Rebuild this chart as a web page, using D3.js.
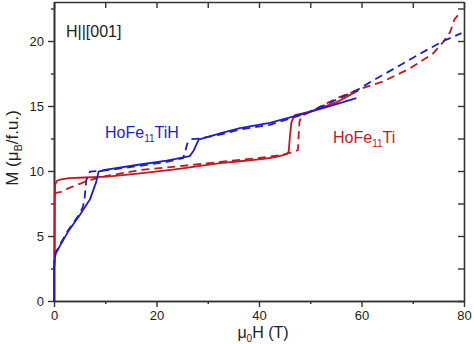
<!DOCTYPE html>
<html><head><meta charset="utf-8">
<script src="https://cdn.jsdelivr.net/npm/d3@7"></script>
<style>body{margin:0;background:#fff}svg{display:block}text{font-family:"Liberation Sans",Arial,sans-serif}</style>
</head><body><svg id="c" width="474" height="344"></svg>
<script>
// HoFe11Ti, solid (red)
const redSolidX = [0.1, 0.12, 0.15, 0.25, 0.6, 1.4, 3, 6, 10.5, 16.8, 24, 32.4, 36.3, 40, 42.1, 44, 45.4, 45.8, 46.0, 46.3, 46.7, 47, 50, 55.2, 59.4];
const redSolidY = [3.0, 5, 8, 9.0, 9.25, 9.36, 9.45, 9.5, 9.56, 9.82, 10.15, 10.6, 10.75, 10.9, 11.0, 11.15, 11.3, 11.5, 12.5, 13.7, 14.1, 14.3, 14.56, 15.3, 16.2];
// HoFe11Ti, dashed (red)
const redDashX = [0, 0.1, 1.4, 3, 5.3, 6.3, 8, 10, 16.8, 24, 32.4, 40, 44, 46, 47.6, 47.7, 47.9, 48.3, 50, 55.2, 59.7, 64.3, 69.5, 74, 76, 77.3, 78.2, 79.5];
const redDashY = [8.28, 8.3, 8.4, 8.7, 9.05, 9.23, 9.4, 9.6, 10.08, 10.35, 10.7, 11.0, 11.2, 11.4, 11.6, 12.5, 13.8, 14.25, 14.55, 15.6, 16.3, 16.9, 17.9, 19.05, 19.95, 20.7, 21.7, 22.25];
// HoFe11TiH, solid (blue)
const blueSolidX = [0, 0, 0.05, 0.3, 1.1, 2.7, 5, 7, 8.26, 8.7, 9.9, 16.8, 22, 26.5, 27.3, 28.2, 28.5, 32.4, 36.3, 42.1, 48.6, 53, 59];
const blueSolidY = [0, 2.0, 3.0, 3.6, 4.2, 5.3, 6.6, 7.8, 9.18, 9.95, 10.08, 10.5, 10.8, 11.15, 11.6, 12.4, 12.46, 12.9, 13.3, 13.7, 14.4, 14.9, 15.6];
// HoFe11TiH, dashed (blue)
const blueDashX = [0, 0.3, 1.1, 2.7, 5, 5.66, 6.0, 6.3, 7.0, 8.9, 12, 16.8, 22, 25.2, 25.6, 26.0, 26.8, 28.5, 32.4, 36.3, 42.1, 48.6, 53, 59, 62, 66, 72.7, 76, 79.5];
const blueDashY = [2.5, 3.7, 4.3, 5.4, 6.7, 7.26, 8.0, 9.3, 9.95, 10.0, 10.15, 10.4, 10.7, 11.0, 11.5, 12.1, 12.45, 12.5, 12.8, 13.2, 13.55, 14.35, 15.1, 16.2, 16.9, 17.8, 19.3, 20.0, 20.6];

const xMajor = [0, 20, 40, 60, 80];
const xMinor = [10, 30, 50, 70];
const yMajor = [0, 5, 10, 15, 20];
const yMinor = [2.5, 7.5, 12.5, 17.5, 22.5];

const blue = "#1e1ecf", red = "#c8161e";
const W = 474, H = 344, m = {l:54, r:10, t:2, b:43};
const svg = d3.select("#c");
const x = d3.scaleLinear().domain([0, 80]).range([m.l, W - m.r]);
const y = d3.scaleLinear().domain([0, 23]).range([H - m.b, m.t]);

const axCol = "#333";
function styleAxis(g) {
  g.selectAll("path").attr("stroke", axCol).attr("stroke-width", 1.6);
  g.selectAll("line").attr("stroke", axCol).attr("stroke-width", 1.4);
  g.selectAll("text").attr("font-size", 13).attr("fill", "#222").attr("font-family", '"Liberation Sans",Arial,sans-serif');
}
// bottom
svg.append("g").attr("transform", `translate(0,${H - m.b})`)
  .call(d3.axisBottom(x).tickValues(xMajor).tickSize(6).tickPadding(4).tickFormat(d3.format("d")).tickSizeOuter(0)).call(styleAxis);
svg.append("g").attr("transform", `translate(0,${H - m.b})`)
  .call(d3.axisBottom(x).tickValues(xMinor).tickSize(3).tickFormat("").tickSizeOuter(0)).call(styleAxis);
// left
svg.append("g").attr("transform", `translate(${m.l},0)`)
  .call(d3.axisLeft(y).tickValues(yMajor).tickSize(6).tickPadding(4).tickFormat(d3.format("d")).tickSizeOuter(0)).call(styleAxis);
svg.append("g").attr("transform", `translate(${m.l},0)`)
  .call(d3.axisLeft(y).tickValues(yMinor).tickSize(3).tickFormat("").tickSizeOuter(0)).call(styleAxis);
// top (inward ticks)
svg.append("g").attr("transform", `translate(0,${m.t})`)
  .call(d3.axisBottom(x).tickValues(xMajor.concat(xMinor)).tickSize(6).tickFormat("").tickSizeOuter(0)).call(styleAxis);
// right (inward ticks)
svg.append("g").attr("transform", `translate(${W - m.r},0)`)
  .call(d3.axisLeft(y).tickValues(yMajor.concat(yMinor)).tickSize(6).tickFormat("").tickSizeOuter(0)).call(styleAxis);

function drawLine(xs, ys, color, dashed) {
  const pts = xs.map((v, i) => [v, ys[i]]);
  svg.append("path").datum(pts)
    .attr("fill", "none").attr("stroke", color).attr("stroke-width", 1.8)
    .attr("stroke-linejoin", "round")
    .attr("stroke-dasharray", dashed ? "8,5" : null)
    .attr("d", d3.line().x(d => x(d[0])).y(d => y(d[1])));
}
drawLine(redDashX, redDashY, red, true);
drawLine(redSolidX, redSolidY, red, false);
drawLine(blueDashX, blueDashY, blue, true);
drawLine(blueSolidX, blueSolidY, blue, false);

// axis labels
const xl = svg.append("text").attr("x", (m.l + W - m.r) / 2 + 4).attr("y", 338)
  .attr("text-anchor", "middle").attr("font-size", 16).attr("fill", "#222");
xl.append("tspan").text("μ");
xl.append("tspan").attr("font-size", 10).attr("dy", 4).text("0");
xl.append("tspan").attr("dy", -4).text("H (T)");

const yl = svg.append("text").attr("transform", `translate(18,148) rotate(-90)`)
  .attr("text-anchor", "middle").attr("font-size", 17).attr("fill", "#222");
yl.append("tspan").text("M (μ");
yl.append("tspan").attr("font-size", 11).attr("dy", 4).text("B");
yl.append("tspan").attr("dy", -4).text("/f.u.)");

svg.append("text").attr("x", 66).attr("y", 37).attr("font-size", 16).attr("fill", "#222").text("H||[001]");

const t1 = svg.append("text").attr("x", 105).attr("y", 138).attr("font-size", 16).attr("fill", blue);
t1.append("tspan").text("HoFe");
t1.append("tspan").attr("font-size", 10).attr("dy", 4).text("11");
t1.append("tspan").attr("dy", -4).text("TiH");

const t2 = svg.append("text").attr("x", 333).attr("y", 143).attr("font-size", 16).attr("fill", red);
t2.append("tspan").text("HoFe");
t2.append("tspan").attr("font-size", 10).attr("dy", 4).text("11");
t2.append("tspan").attr("dy", -4).text("Ti");
</script></body></html>
